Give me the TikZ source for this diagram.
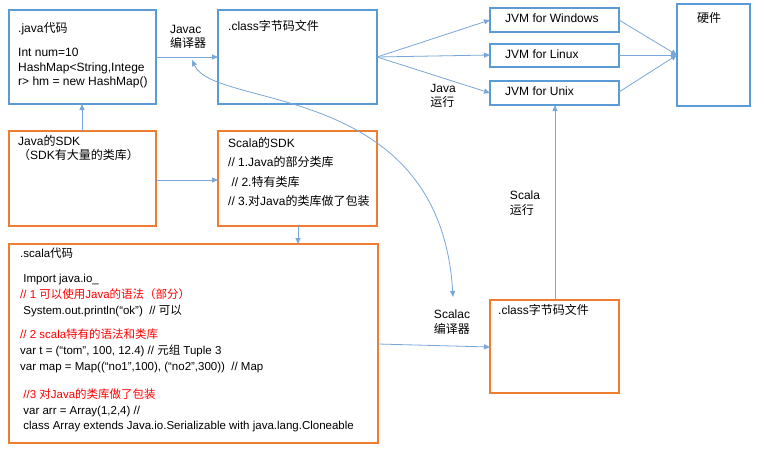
\documentclass[tikz,border=0pt]{standalone}
\usepackage{fontspec}
\setmainfont{Liberation Sans}
\newfontfamily\cjk{Noto Sans CJK SC}
\usetikzlibrary{arrows.meta}
\definecolor{bl}{HTML}{5B9BD5}
\definecolor{og}{HTML}{ED7D31}
\definecolor{ln}{HTML}{7AA7DA}
\newcommand{\zh}[1]{{\cjk #1}}
\begin{document}
\begin{tikzpicture}[x=1pt,y=-1pt,
  font=\fontsize{12}{14.5}\selectfont,
  bbox/.style={draw=bl,line width=2.2pt},
  obox/.style={draw=og,line width=2.2pt},
  txt/.style={anchor=north west,inner sep=0pt,align=left},
  arr/.style={draw=ln,line width=0.8pt,-{Triangle[length=6pt,width=5pt]}},
  lab/.style={align=left,inner sep=0pt}]
\useasboundingbox (0,0) rectangle (765,458);
\fill[white] (0,0) rectangle (765,458);
% boxes
\draw[bbox] (9,10) rectangle (156,104);
\node[txt] (javat) at (18,22) {.java\zh{代码}\\[10pt]Int num=10\\HashMap<String,Intege\\r> hm = new HashMap()};
\draw[bbox] (218,10) rectangle (377,104);
\node[txt] (classt) at (228,20) {.class\zh{字节码文件}};
\draw[obox] (9,131) rectangle (156,226);
\node[txt] (jsdk) at (18,135) {Java\zh{的}SDK\\\zh{（}SDK\zh{有大量的类库）}};
\draw[obox] (218,131) rectangle (377,226);
\node[txt] (ssdk) at (228,137) {Scala\zh{的}SDK\\[5pt]// 1.Java\zh{的部分类库}\\[5pt]\ // 2.\zh{特有类库}\\[5pt]// 3.\zh{对}Java\zh{的类库做了包装}};
\draw[obox] (9,244) rectangle (378,443);
\node[txt,font=\fontsize{11.5}{15.8}\selectfont] (scode) at (20,248) {.scala\zh{代码}\\[9pt]
\ Import java.io\_\\
\textcolor{red}{// 1 \zh{可以使用}Java\zh{的语法（部分）}}\\
\ System.out.println(“ok”) \ // \zh{可以}\\[9pt]
\textcolor{red}{// 2 scala\zh{特有的语法和类库}}\\
var t = (“tom”, 100, 12.4) // \zh{元组} Tuple 3\\
var map = Map((“no1”,100), (“no2”,300)) \ // Map\\[12pt]
\textcolor{red}{\ //3 \zh{对}Java\zh{的类库做了包装}}\\
\ var arr = Array(1,2,4) //\\
\ class Array extends Java.io.Serializable with java.lang.Cloneable};
\draw[obox] (490,300) rectangle (619,393);
\node[txt] (class2t) at (498,304) {.class\zh{字节码文件}};
\draw[bbox] (490,8) rectangle (619,32);
\node[txt] (w) at (505,14) {JVM for Windows};
\draw[bbox] (490,44) rectangle (619,67);
\node[txt] (l) at (505,50) {JVM for Linux};
\draw[bbox] (490,81) rectangle (619,105);
\node[txt] (u) at (505,87) {JVM for Unix};
\draw[bbox] (677,4) rectangle (750,106);
\node[txt] (hw) at (697,12) {\zh{硬件}};
% labels
\node[lab] (l1) at (188,37) {Javac\\\zh{编译器}};
\node[lab] (l2) at (443,96) {Java\\\zh{运行}};
\node[lab] (l3) at (525,203) {Scala\\\zh{运行}};
\node[lab] (l4) at (452,322) {Scalac\\\zh{编译器}};
% connector points
\coordinate (a1) at (156,57); \coordinate (a2) at (218,57);
\coordinate (b1) at (82,131); \coordinate (b2) at (82,104);
\coordinate (c1) at (156,180); \coordinate (c2) at (218,180);
\coordinate (d1) at (298,226); \coordinate (d2) at (298,244);
\coordinate (e1) at (378,344); \coordinate (e2) at (490,347);
\coordinate (s) at (377,57);
\coordinate (w1) at (490,20); \coordinate (l1p) at (490,55); \coordinate (u1) at (490,93);
\coordinate (w2) at (619,20); \coordinate (l2p) at (619,55); \coordinate (u2) at (619,92);
\coordinate (h) at (677,55);
\coordinate (f1) at (555,300); \coordinate (f2) at (555,105);
\coordinate (g1) at (453,297); \coordinate (g2) at (192,60);
\draw[arr] (a1) -- (a2);
\draw[arr] (b1) -- (b2);
\draw[arr] (c1) -- (c2);
\draw[arr] (d1) -- (d2);
\draw[arr] (e1) -- (e2);
\draw[arr] (s) -- (w1);
\draw[arr] (s) -- (l1p);
\draw[arr] (s) -- (u1);
\draw[arr] (w2) -- (h);
\draw[arr] (l2p) -- (h);
\draw[arr] (u2) -- (h);
\draw[arr] (f1) -- (f2);
\draw[draw=ln,line width=0.8pt,{Triangle[length=6pt,width=5pt]}-{Triangle[length=6pt,width=5pt]}] (g2) .. controls (215,110) and (440,80) .. (g1);
\end{tikzpicture}
\end{document}
